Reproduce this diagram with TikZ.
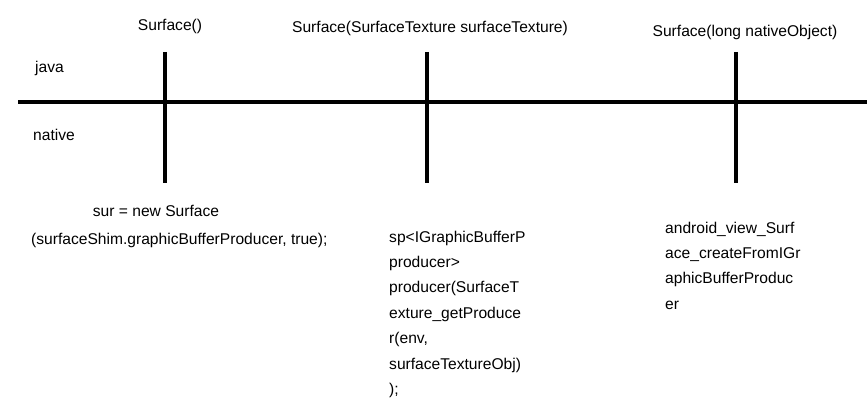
\documentclass[tikz,border=0pt]{standalone}
\usepackage{fontspec}
\setmainfont{Liberation Sans}
\begin{document}
\begin{tikzpicture}[x=1pt,y=-1pt,
  thick line/.style={line width=4.5pt},
  lbl/.style={font=\fontsize{15.6}{18}\selectfont,inner sep=0pt},
  ll/.style={lbl,anchor=west}]
\useasboundingbox (0,0) rectangle (867,411);
\coordinate (h1) at (18,102); \coordinate (h2) at (867,102);
\draw[thick line] (h1) -- (h2);
\foreach \n/\x in {a/165,b/427,c/736}{
  \coordinate (\n1) at (\x,52); \coordinate (\n2) at (\x,183);
  \draw[thick line] (\n1) -- (\n2);}
\node[lbl] (t1) at (170,26) {Surface()};
\node[lbl] (t2) at (430,28) {Surface(SurfaceTexture surfaceTexture)};
\node[lbl] (t3) at (745,32) {Surface(long nativeObject)};
\node[ll] (java) at (35,68) {java};
\node[ll] (nat) at (33,135) {native};
\node[lbl] (s1) at (156,211) {sur = new Surface};
\node[ll] (s2) at (31,240) {(surfaceShim.graphicBufferProducer, true);};
\foreach \t [count=\i] in {sp<IGraphicBufferP,producer>,producer(SurfaceT,exture\_getProduce,{r(env,},surfaceTextureObj),);}
  \node[ll] (p\i) at (389,{238+25.4*(\i-1)}) {\t};
\foreach \t [count=\i] in {android\_view\_Surf,ace\_createFromIGr,aphicBufferProduc,er}
  \node[ll] (q\i) at (665,{229+25.3*(\i-1)}) {\t};
\end{tikzpicture}
\end{document}
